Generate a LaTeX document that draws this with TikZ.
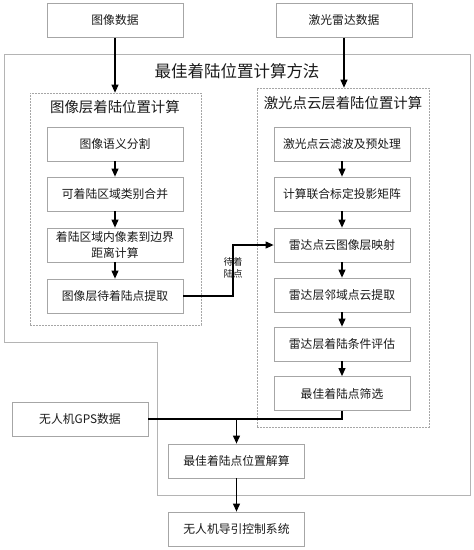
\documentclass[tikz,border=0pt]{standalone}
\usepackage{fontspec}
\newfontfamily\cjk{Noto Sans CJK SC}
\usetikzlibrary{arrows.meta}
\definecolor{boxgray}{HTML}{A6A6A6}
\definecolor{outergray}{HTML}{B4B4B4}
\definecolor{textc}{HTML}{1A1A1A}
\begin{document}
\begin{tikzpicture}[x=1pt,y=-1pt,
  stepbox/.style={draw=boxgray, line width=0.8pt, minimum width=136pt, minimum height=34pt,
    inner sep=0pt, font=\cjk\fontsize{11.8}{16}\selectfont, text=textc, align=center},
  grpbox/.style={draw=boxgray, line width=0.7pt, dash pattern=on 1.8pt off 1.2pt, inner sep=0pt},
  grptitle/.style={font=\cjk\fontsize{14.4}{17}\selectfont, text=textc, inner sep=0pt},
  arr/.style={draw=black, line width=1.1pt, -{Triangle[length=8pt,width=7pt]}},
  plainline/.style={draw=black, line width=1.1pt},
  lbl/.style={font=\cjk\fontsize{9.5}{11.5}\selectfont, text=textc, align=center, inner sep=0pt}
]
\useasboundingbox (0,0) rectangle (474,550);
\fill[white] (0,0) rectangle (474,550);

% outer frame
\draw[outergray, line width=0.9pt] (4,54) -- (470,54) -- (470,495) -- (157,495) -- (157,342) -- (4,342) -- cycle;
\node[font=\cjk\fontsize{16.5}{20}\selectfont, text=textc, inner sep=0pt] (title) at (237,71) {最佳着陆位置计算方法};

% group boxes
\node[grpbox, minimum width=171pt, minimum height=232pt] (lgrp) at (115.5,209) {};
\node[grpbox, minimum width=172pt, minimum height=339pt] (rgrp) at (343,257.5) {};
\node[grptitle] (ltitle) at (115,107) {图像层着陆位置计算};
\node[grptitle] (rtitle) at (343,103) {激光点云层着陆位置计算};

% top inputs
\node[stepbox] (img) at (115,20.5) {图像数据};
\node[stepbox] (lidar) at (344,20.5) {激光雷达数据};

% left steps
\node[stepbox] (l1) at (115,144) {图像语义分割};
\node[stepbox] (l2) at (115,194) {可着陆区域类别合并};
\node[stepbox] (l3) at (115,245) {着陆区域内像素到边界\\距离计算};
\node[stepbox] (l4) at (115,296) {图像层待着陆点提取};

% right steps
\node[stepbox] (r1) at (342,144) {激光点云滤波及预处理};
\node[stepbox] (r2) at (342,194) {计算联合标定投影矩阵};
\node[stepbox] (r3) at (342,245) {雷达点云图像层映射};
\node[stepbox] (r4) at (342,295) {雷达层邻域点云提取};
\node[stepbox] (r5) at (342,344) {雷达层着陆条件评估};
\node[stepbox] (r6) at (342,393.5) {最佳着陆点筛选};

% bottom
\node[stepbox] (gps) at (80,419) {无人机GPS数据};
\node[stepbox] (solve) at (236.5,461) {最佳着陆点位置解算};
\node[stepbox] (ctrl) at (236.5,529) {无人机导引控制系统};

% connectors
\draw[arr] (img.south) -- (img.south |- lgrp.north);
\draw[arr] (lidar.south) -- (lidar.south |- rgrp.north);
\draw[arr] (l1) -- (l2);
\draw[arr] (l2) -- (l3);
\draw[arr] (l3) -- (l4);
\draw[arr] (r1) -- (r2);
\draw[arr] (r2) -- (r3);
\draw[arr] (r3) -- (r4);
\draw[arr] (r4) -- (r5);
\draw[arr] (r5) -- (r6);

\coordinate (bx) at (233,0);
\draw[arr] (l4.east) -- (l4.east -| bx) |- (r3.west);
\node[lbl] (lbl1) at (233,268) {待着\\陆点};

\coordinate (jn) at (solve.north |- gps.east);
\draw[plainline] (gps.east) -- (r6.south |- gps.east) -- (r6.south);
\draw[arr] (jn) -- (solve.north);
\draw[arr] (solve) -- (ctrl);
\end{tikzpicture}
\end{document}
